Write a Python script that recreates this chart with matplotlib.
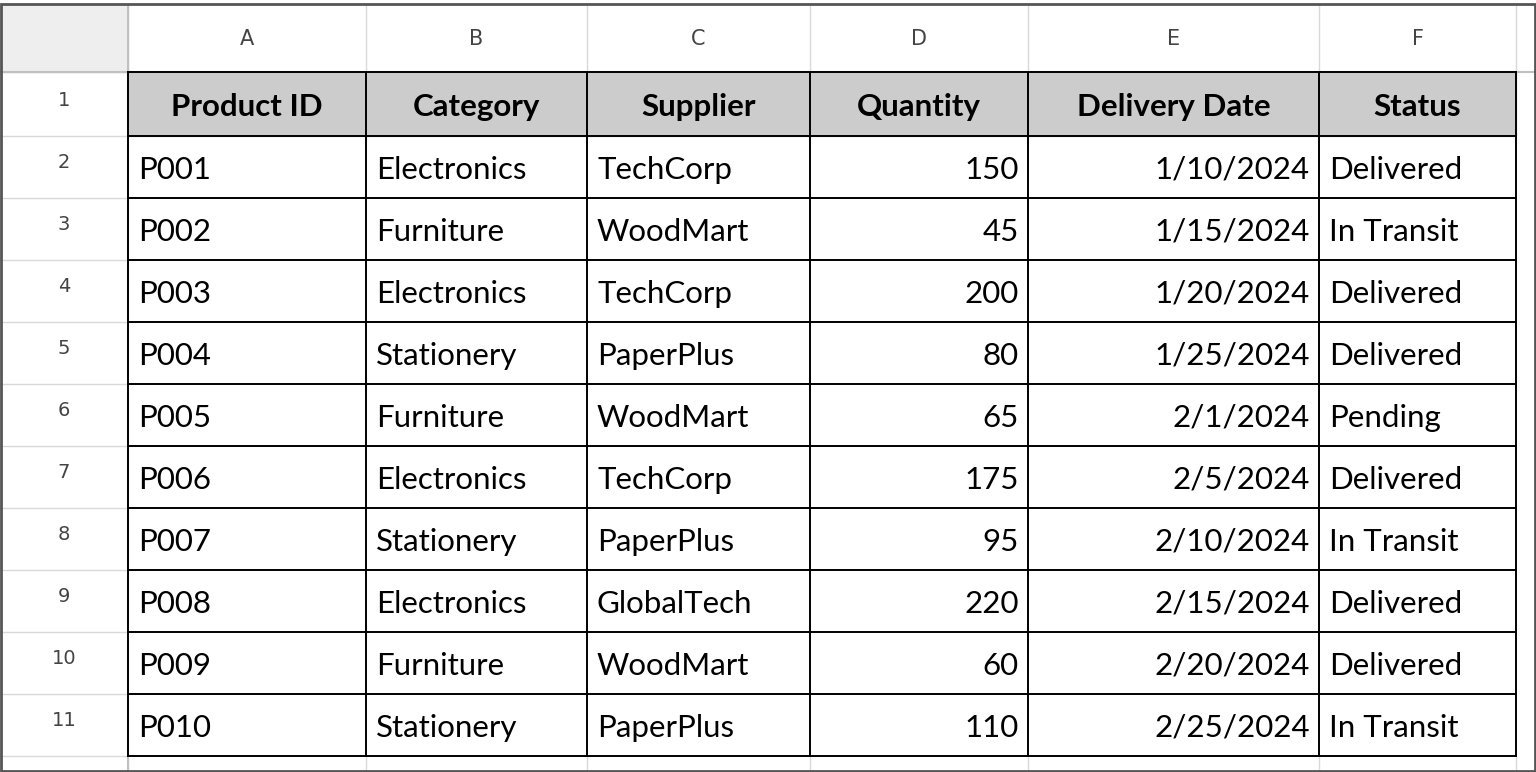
import matplotlib.pyplot as plt
from matplotlib.patches import Rectangle

col_letters = ["A", "B", "C", "D", "E", "F"]
headers = ["Product ID", "Category", "Supplier", "Quantity", "Delivery Date", "Status"]
product_ids = ["P001", "P002", "P003", "P004", "P005", "P006", "P007", "P008", "P009", "P010"]
categories = ["Electronics", "Furniture", "Electronics", "Stationery", "Furniture",
              "Electronics", "Stationery", "Electronics", "Furniture", "Stationery"]
suppliers = ["TechCorp", "WoodMart", "TechCorp", "PaperPlus", "WoodMart",
             "TechCorp", "PaperPlus", "GlobalTech", "WoodMart", "PaperPlus"]
quantities = [150, 45, 200, 80, 65, 175, 95, 220, 60, 110]
dates = ["1/10/2024", "1/15/2024", "1/20/2024", "1/25/2024", "2/1/2024",
         "2/5/2024", "2/10/2024", "2/15/2024", "2/20/2024", "2/25/2024"]
statuses = ["Delivered", "In Transit", "Delivered", "Delivered", "Pending",
            "Delivered", "In Transit", "Delivered", "Delivered", "In Transit"]

# pixel layout
col_x = [128, 366, 587, 810, 1028, 1319, 1516]
row_y = [72] + [136 + 62 * i for i in range(11)]
W, H = 1536, 772
font = "Lato"

fig = plt.figure(figsize=(W / 100, H / 100), dpi=100)
ax = fig.add_axes([0, 0, 1, 1])
ax.set_xlim(0, W)
ax.set_ylim(H, 0)
ax.axis("off")

# background and grey header strips
ax.add_patch(Rectangle((0, 0), W, H, color="white", zorder=0))
ax.add_patch(Rectangle((0, 5), 128, 67, color="#eeeeee", zorder=1))
ax.add_patch(Rectangle((col_x[0], row_y[0]), col_x[-1] - col_x[0], row_y[1] - row_y[0],
                       color="#cccccc", zorder=1))

# light gridlines for row/column headers
for x in col_x + [1536]:
    ax.plot([x, x], [5, 72], color="#d9d9d9", lw=1, zorder=2)
    ax.plot([x, x], [756, 772], color="#d9d9d9", lw=1, zorder=2)
for y in row_y + [772]:
    ax.plot([0, 128], [y, y], color="#d9d9d9", lw=1, zorder=2)
ax.plot([128, 128], [5, 772], color="#c0c0c0", lw=1.5, zorder=2)
ax.plot([0, W], [72, 72], color="#c0c0c0", lw=1.5, zorder=2)

# data cell borders
for x in col_x:
    ax.plot([x, x], [row_y[0], row_y[-1]], color="black", lw=1.4, zorder=3)
for y in row_y:
    ax.plot([col_x[0], col_x[-1]], [y, y], color="black", lw=1.4, zorder=3)

# outer frame
ax.add_patch(Rectangle((1, 4), W - 2, H - 5, fill=False, ec="#555555", lw=2, zorder=4))

for i, letter in enumerate(col_letters):
    ax.text((col_x[i] + col_x[i + 1]) / 2, 39, letter, ha="center", va="center",
            fontsize=15, color="#444444", family="DejaVu Sans", zorder=5)
for r in range(11):
    ax.text(64, (row_y[r] + row_y[r + 1]) / 2 - 4, str(r + 1), ha="center", va="center",
            fontsize=14, color="#444444", family="DejaVu Sans", zorder=5)
for i, h in enumerate(headers):
    ax.text((col_x[i] + col_x[i + 1]) / 2, (row_y[0] + row_y[1]) / 2 + 3, h, ha="center",
            va="center", fontsize=22.5, fontweight="bold", family=font, zorder=5)

for r in range(10):
    yc = (row_y[r + 1] + row_y[r + 2]) / 2 + 3
    vals = [product_ids[r], categories[r], suppliers[r], str(quantities[r]), dates[r], statuses[r]]
    for i, v in enumerate(vals):
        if i in (3, 4):
            ax.text(col_x[i + 1] - 9, yc, v, ha="right", va="center", fontsize=22.5,
                    family=font, zorder=5)
        else:
            ax.text(col_x[i] + 10, yc, v, ha="left", va="center", fontsize=22.5,
                    family=font, zorder=5)

fig.savefig("out.png", dpi=100)
